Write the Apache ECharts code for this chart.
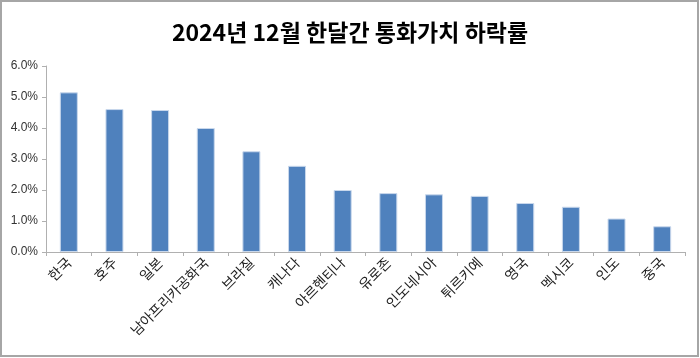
<!DOCTYPE html>
<html><head><meta charset="utf-8">
<script src="https://cdn.jsdelivr.net/npm/echarts@6/dist/echarts.min.js"></script>
<style>html,body{margin:0;padding:0;background:#fff}#c{width:700px;height:358px}</style>
</head><body><div id="c"></div>
<script>
const titleText = '2024년 12월 한달간 통화가치 하락률';
const categories = ['한국','호주','일본','남아프리카공화국','브라질','캐나다','아르헨티나','유로존','인도네시아','튀르키예','영국','멕시코','인도','중국'];
const values = [5.15, 4.61, 4.58, 4.00, 3.25, 2.78, 2.00, 1.90, 1.86, 1.81, 1.58, 1.46, 1.08, 0.83];
const yTicks = [0, 1, 2, 3, 4, 5, 6];

const chart = echarts.init(document.getElementById('c'), null, {renderer:'canvas'});
chart.setOption({
  animation:false,
  backgroundColor:'#fff',
  title:{text:titleText,left:'center',top:16,textStyle:{fontFamily:'"Noto Sans CJK KR", sans-serif',fontSize:23,fontWeight:'bold',color:'#000'}},
  graphic:[{type:'rect',shape:{x:1,y:1,width:697,height:355},style:{fill:null,stroke:'#a6a6a6',lineWidth:2},silent:true}],
  grid:{left:46,right:15,top:66,bottom:106},
  xAxis:{type:'category',data:categories,
    axisLine:{lineStyle:{color:'#b0b0b0'}},
    axisTick:{show:true,length:4,lineStyle:{color:'#b0b0b0'}},
    axisLabel:{rotate:45,interval:0,margin:8,fontSize:14,color:'#222',fontFamily:'"Noto Sans CJK KR", sans-serif'}},
  yAxis:{type:'value',min:yTicks[0],max:yTicks[yTicks.length-1],interval:1,
    axisLine:{show:true,lineStyle:{color:'#b0b0b0'}},
    axisTick:{show:true,length:4,lineStyle:{color:'#b0b0b0'}},
    splitLine:{show:false},
    axisLabel:{margin:8,fontSize:12,color:'#333',fontFamily:'"Liberation Sans", Arial, sans-serif',formatter:v=>v.toFixed(1)+'%'}},
  series:[{type:'bar',data:values,barWidth:18,
    itemStyle:{color:'#4f81bd',borderColor:'#c9d8ec',borderWidth:1}}]
});
</script></body></html>
